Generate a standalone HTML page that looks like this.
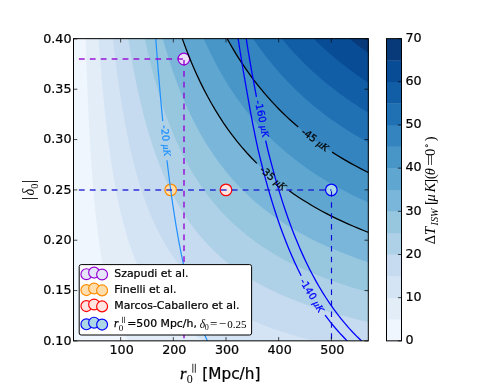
<!DOCTYPE html>
<html><head><meta charset="utf-8"><title>ISW contour plot</title>
<style>html,body{margin:0;padding:0;background:#fff}svg{display:block}text{font-family:"DejaVu Sans","Liberation Sans",sans-serif;fill:#000}.b{stroke:#000;stroke-width:0.22px}.m{font-family:"Liberation Serif","DejaVu Serif",serif;font-style:italic}.mr{font-family:"Liberation Serif","DejaVu Serif",serif}.pp{font-family:"DejaVu Math TeX Gyre","DejaVu Sans",sans-serif}</style>
</head><body>
<svg width="491" height="392" viewBox="0 0 491 392">
<rect width="491" height="392" fill="#fff"/>
<defs><clipPath id="ax"><rect x="73.5" y="38.65" width="294.8" height="302.2"/></clipPath></defs>
<g clip-path="url(#ax)">
<rect x="73.5" y="38.65" width="294.8" height="302.2" fill="#f0f6fd"/>
<polygon points="84.15,-9.8 85.33,33.12 86.67,72.35 88.09,106.11 88.9,122.87 89.72,137.98 90.61,152.84 91.51,166.25 92.47,179.37 93.51,192.11 94.63,204.39 95.74,215.45 96.93,226.1 98.2,236.3 99.54,246.04 100.95,255.3 102.36,263.67 103.92,272.01 105.56,279.9 107.27,287.33 109.05,294.32 110.99,301.16 112.99,307.55 115.07,313.54 117.3,319.32 119.61,324.71 122.06,329.9 124.67,334.85 127.42,339.57 130.24,343.95 133.22,348.11 136.41,352.14 139.76,355.95 143.33,359.61 147.04,363.05 150.91,366.28 155.07,369.41 159.39,372.34 163.92,375.12 168.75,377.79 173.81,380.31 179.16,382.71 184.81,385 190.69,387.14 196.93,389.2 203.47,391.14 210.39,393 217.68,394.76 225.33,396.43 233.36,398 241.84,399.51 250.76,400.93 260.2,402.29 270.09,403.58 280.5,404.8 291.5,405.97 303.1,407.07 315.3,408.12 328.08,409.11 341.61,410.06 355.82,410.96 370.83,411.81 370.83,-61.77 84.15,-61.77" fill="#e2edf8"/>
<polygon points="95.74,-10.67 97.6,21.7 98.64,37.76 99.68,52.56 100.8,67.18 101.91,80.66 103.1,93.93 104.29,106.19 105.56,118.22 106.9,129.98 108.31,141.42 109.8,152.51 111.28,162.73 112.84,172.64 114.48,182.21 116.19,191.44 117.97,200.32 119.76,208.52 121.69,216.72 123.7,224.57 125.78,232.08 127.94,239.26 130.17,246.11 132.55,252.85 135,259.26 137.53,265.35 140.13,271.14 142.88,276.79 145.78,282.28 148.75,287.47 151.88,292.51 155.07,297.26 158.49,301.95 161.99,306.37 165.63,310.62 169.42,314.7 173.36,318.62 177.45,322.37 181.76,326.02 186.23,329.5 190.91,332.87 195.74,336.08 200.8,339.18 206,342.12 211.43,344.95 217.15,347.71 223.1,350.35 229.27,352.87 235.74,355.31 242.43,357.64 249.42,359.89 256.63,362.03 264.14,364.08 272.02,366.07 280.2,367.97 288.75,369.81 297.67,371.57 306.89,373.25 316.48,374.87 326.52,376.43 336.93,377.92 347.79,379.36 359.09,380.74 370.83,382.06 370.83,-61.77 95.74,-61.77" fill="#d4e4f4"/>
<polygon points="108.09,-11.27 110.46,15.03 111.73,27.68 113.07,40.2 114.41,51.9 115.82,63.46 117.3,74.83 118.79,85.45 120.35,95.89 121.99,106.11 123.62,115.66 125.33,125 127.12,134.12 128.98,143 130.91,151.63 132.84,159.7 134.93,167.83 137.01,175.42 139.16,182.78 141.39,189.9 143.7,196.79 146.08,203.44 148.53,209.87 151.13,216.23 153.74,222.19 156.49,228.08 159.31,233.74 162.29,239.31 165.33,244.65 168.46,249.76 171.73,254.77 175.07,259.55 178.57,264.23 182.14,268.7 185.85,273.05 189.65,277.2 193.66,281.31 197.75,285.23 201.99,289.02 206.37,292.7 210.91,296.25 215.59,299.68 220.43,302.99 225.48,306.23 230.69,309.35 236.04,312.35 241.62,315.27 247.34,318.08 253.29,320.8 259.38,323.41 265.78,325.97 272.32,328.42 279.09,330.8 286.15,333.11 293.36,335.32 300.87,337.47 308.6,339.54 316.63,341.56 324.96,343.51 333.51,345.38 342.36,347.2 351.58,348.96 361.02,350.66 370.83,352.3 370.83,-61.77 108.09,-61.77" fill="#c6dbef"/>
<polygon points="121.32,-11.18 124.14,10.9 125.63,21.57 127.12,31.64 128.68,41.64 130.24,51.09 131.88,60.46 133.59,69.7 135.37,78.81 137.16,87.4 139.01,95.86 140.87,103.86 142.81,111.72 144.81,119.43 146.9,126.99 149.05,134.38 151.28,141.59 153.51,148.4 155.82,155.06 158.2,161.55 160.65,167.87 163.18,174.02 165.78,180.01 168.46,185.82 171.21,191.47 174.03,196.94 176.93,202.25 179.98,207.52 183.03,212.5 186.23,217.44 189.5,222.2 192.84,226.81 196.26,231.26 199.83,235.64 203.47,239.87 207.27,244.03 211.13,248.04 215.15,251.97 219.24,255.74 223.47,259.44 227.86,263.06 232.32,266.53 236.93,269.92 241.62,273.17 246.52,276.39 251.5,279.48 256.63,282.48 261.91,285.41 267.34,288.24 272.99,291.03 278.72,293.7 284.66,296.33 290.76,298.86 297.08,301.35 303.55,303.75 310.17,306.07 317.01,308.34 324.07,310.55 331.35,312.71 338.79,314.78 346.45,316.81 354.33,318.77 362.43,320.68 370.83,322.55 370.83,-61.77 121.32,-61.77" fill="#afd1e7"/>
<polygon points="135.45,-11.42 138.57,6.95 141.84,24.41 143.55,32.89 145.26,40.97 147.04,49 148.9,56.96 150.76,64.54 152.69,72.05 154.7,79.46 156.71,86.53 158.79,93.5 160.87,100.14 163.03,106.7 165.26,113.16 167.56,119.51 169.87,125.56 172.25,131.51 174.7,137.35 177.23,143.08 179.76,148.54 182.43,154.05 185.11,159.29 187.94,164.56 190.76,169.58 193.66,174.48 196.63,179.27 199.68,183.94 202.81,188.5 206,192.95 209.27,197.28 212.62,201.51 216.11,205.71 219.61,209.7 223.25,213.68 226.97,217.53 230.76,221.28 234.7,224.99 238.72,228.58 242.81,232.07 247.04,235.51 251.36,238.85 255.74,242.08 260.28,245.26 264.89,248.33 269.65,251.36 274.48,254.29 279.46,257.16 284.59,259.97 289.79,262.7 295.15,265.36 300.65,267.97 306.3,270.52 312.1,273.02 317.97,275.42 323.99,277.77 330.24,280.09 336.56,282.33 343.1,284.53 349.79,286.68 356.63,288.76 363.62,290.8 370.83,292.79 370.83,-61.77 135.45,-61.77" fill="#97c6df"/>
<polygon points="150.69,-11.22 154.03,4.13 157.45,18.55 161.1,32.69 164.89,46.21 168.83,59.12 170.84,65.3 172.92,71.44 175.07,77.54 177.23,83.39 179.46,89.18 181.69,94.74 184,100.25 186.37,105.7 188.75,110.93 191.21,116.1 193.74,121.21 196.26,126.1 198.87,130.94 201.54,135.71 204.29,140.4 207.04,144.91 209.87,149.35 212.77,153.71 215.74,158.01 218.79,162.23 221.91,166.37 225.04,170.35 228.31,174.34 231.58,178.16 234.92,181.92 238.34,185.6 241.84,189.2 245.41,192.73 249.05,196.19 252.84,199.64 256.63,202.94 260.57,206.24 264.51,209.4 268.6,212.54 272.77,215.61 277.01,218.6 281.32,221.52 285.78,224.42 290.31,227.24 294.92,229.99 299.61,232.67 304.44,235.32 309.35,237.91 314.4,240.46 319.53,242.94 324.74,245.35 330.09,247.73 335.52,250.04 341.09,252.32 346.82,254.57 352.62,256.75 358.57,258.89 364.66,261 370.83,263.04 370.83,-61.77 150.69,-61.77" fill="#7ab6d9"/>
<polygon points="167.04,-11.28 170.46,1.28 174.03,13.47 177.75,25.29 181.62,36.73 185.63,47.77 189.72,58.23 193.96,68.33 198.42,78.22 203.03,87.72 207.79,96.85 212.77,105.74 217.9,114.25 220.57,118.46 223.25,122.52 226,126.54 228.75,130.42 231.58,134.26 234.48,138.07 237.38,141.74 240.35,145.37 243.4,148.96 246.45,152.43 249.65,155.93 252.84,159.32 256.11,162.65 259.46,165.94 262.88,169.19 266.3,172.32 269.79,175.4 273.36,178.44 277.01,181.44 280.72,184.38 284.51,187.28 288.38,190.13 292.32,192.93 296.26,195.64 300.35,198.34 304.44,200.95 312.92,206.08 321.69,211.01 330.83,215.8 340.28,220.4 350.09,224.85 360.28,229.14 370.83,233.29 370.83,-61.77 167.04,-61.77" fill="#5fa6d1"/>
<polygon points="184.74,-11.21 188.23,-0.78 191.8,9.24 195.52,19.06 199.31,28.47 203.25,37.68 207.27,46.5 211.43,55.11 215.74,63.49 220.2,71.65 224.74,79.45 229.5,87.14 234.33,94.49 239.31,101.62 244.52,108.63 249.87,115.4 255.37,121.95 261.02,128.28 266.89,134.46 272.92,140.43 279.16,146.24 285.56,151.84 292.17,157.3 299.01,162.6 306.08,167.74 313.29,172.68 320.8,177.52 328.53,182.21 336.48,186.74 344.66,191.12 353.14,195.4 361.84,199.52 370.83,203.53 370.83,-61.77 184.74,-61.77" fill="#4896c8"/>
<polygon points="203.85,-11.3 207.27,-2.88 210.76,5.28 214.33,13.2 218.05,21.04 221.84,28.63 225.7,35.98 229.65,43.1 233.73,50.12 237.9,56.9 242.21,63.58 246.6,70.03 251.13,76.37 255.74,82.48 260.5,88.48 265.41,94.36 270.39,100.02 275.52,105.56 280.8,110.98 286.22,116.27 291.73,121.36 297.45,126.4 303.25,131.24 309.27,136.02 315.44,140.67 321.76,145.19 328.23,149.59 334.85,153.86 341.69,158.06 348.68,162.13 355.89,166.12 363.25,169.99 370.83,173.78 370.83,-61.77 203.85,-61.77" fill="#3484bf"/>
<polygon points="224.59,-11.4 227.86,-4.7 231.13,1.71 234.55,8.14 237.97,14.3 241.47,20.33 245.04,26.24 248.68,32.03 252.47,37.8 256.26,43.33 260.2,48.84 264.22,54.22 268.31,59.48 272.47,64.61 276.71,69.61 281.02,74.49 285.48,79.34 290.02,84.05 294.63,88.65 299.38,93.2 304.22,97.63 309.12,101.94 314.18,106.2 319.31,110.34 324.59,114.43 329.94,118.4 335.44,122.31 341.02,126.11 346.74,129.85 352.62,133.53 358.57,137.11 364.66,140.62 370.83,144.02 370.83,-61.77 224.59,-61.77" fill="#2070b4"/>
<polygon points="247.27,-11.36 250.24,-6.28 253.21,-1.37 256.26,3.51 259.31,8.22 262.51,13 265.7,17.62 268.98,22.19 272.25,26.61 275.59,30.99 279.01,35.31 282.51,39.59 286.08,43.81 289.64,47.89 293.29,51.91 297.01,55.89 300.8,59.81 304.66,63.68 308.53,67.41 312.54,71.17 316.56,74.8 320.72,78.44 324.89,81.96 329.12,85.43 333.44,88.84 337.82,92.19 342.28,95.49 346.82,98.74 351.5,101.98 356.19,105.11 361.02,108.23 365.85,111.26 370.83,114.27 370.83,-61.77 247.27,-61.77" fill="#125ea6"/>
<polygon points="272.02,-11.43 277.08,-4.27 282.28,2.75 287.64,9.61 293.14,16.31 298.79,22.86 304.51,29.16 310.39,35.31 316.48,41.38 322.66,47.23 329.05,52.98 335.59,58.58 342.28,64.03 349.12,69.32 356.19,74.52 363.4,79.57 370.83,84.51 370.83,-61.77 272.02,-61.77" fill="#084c95"/>
<polygon points="299.31,-11.4 303.25,-6.68 307.19,-2.13 311.28,2.44 315.37,6.86 319.61,11.28 323.85,15.55 328.16,19.75 332.62,23.95 337.08,28.01 341.69,32.06 346.3,35.97 351.06,39.87 355.89,43.7 360.8,47.46 365.78,51.15 370.83,54.76 370.83,-61.77 299.31,-61.77" fill="#083979"/>
<circle cx="183.86" cy="59.03" r="5.8" fill="#ebe0f8" stroke="#9400d3" stroke-width="1.25"/>
<circle cx="170.69" cy="189.9" r="5.8" fill="#ffdead" stroke="#ff8c00" stroke-width="1.25"/>
<circle cx="225.99" cy="189.9" r="5.8" fill="#ffe4e1" stroke="#ff0000" stroke-width="1.25"/>
<circle cx="331.33" cy="189.9" r="5.8" fill="#add8e6" stroke="#0000ff" stroke-width="1.25"/>
<polyline points="146.99,-108.38 149.08,-95.86 151.32,-83.19 153.56,-71.23 155.95,-59.19 158.34,-47.82 160.88,-36.42 163.41,-25.66 165.95,-15.49 168.64,-5.31 171.33,4.31 174.17,13.91 177.15,23.45 180.14,32.46 183.27,41.39 186.41,49.82 189.7,58.17 193.13,66.41 196.57,74.19 200.15,81.87 203.73,89.11 207.47,96.26 211.35,103.27 215.38,110.15 219.41,116.65 223.59,123.03 227.92,129.27 232.4,135.36 237.03,141.31 241.81,147.11 246.74,152.75 251.82,158.24 256.89,163.43" fill="none" stroke="#000" stroke-width="1.25" />
<polyline points="289,190.58 293.33,193.64 297.81,196.67 302.44,199.69 307.07,202.58 311.85,205.45 316.63,208.21 321.55,210.94 326.63,213.64 331.86,216.32 337.08,218.88 342.46,221.42 347.84,223.86 353.36,226.26 359.04,228.64 364.86,230.98 370.83,233.29" fill="none" stroke="#000" stroke-width="1.25" />
<polyline points="199.66,-22.23 204.34,-10.06 209.14,1.54 211.65,7.29 214.16,12.84 216.67,18.19 219.3,23.59 221.92,28.8 224.67,34.04 227.41,39.1 230.15,43.98 233,48.89 235.97,53.81 238.94,58.55 241.91,63.13 244.99,67.71 248.08,72.13 251.27,76.56 254.47,80.83 257.78,85.09 261.09,89.21 264.52,93.31 268.06,97.41 271.6,101.35 275.14,105.16 278.79,108.95 282.56,112.73 286.33,116.37 290.21,119.98 294.21,123.58 298.21,127.04" fill="none" stroke="#000" stroke-width="1.25" />
<polyline points="332.12,152.13 336.69,155.01 341.37,157.87 346.05,160.63 350.85,163.36 355.76,166.05 360.67,168.66 370.83,173.78" fill="none" stroke="#000" stroke-width="1.25" />
<polyline points="146.99,-111.34 148.72,-76.45 150.5,-43.62 152.33,-12.77 154.25,16.87 156.26,45.23 158.32,71.67 160.51,97.35 162.75,121.17" fill="none" stroke="#1e90ff" stroke-width="1.2" />
<polyline points="166.95,160.27 169.19,178.53 171.47,195.56 173.85,211.75 176.31,227.09 178.87,241.6 181.57,255.5 184.35,268.54 187.23,280.77 190.24,292.37 193.4,303.34 195.04,308.64 196.68,313.67 198.37,318.58 200.11,323.36 201.89,328.02 203.67,332.43 205.55,336.83 207.42,340.99 209.38,345.13 211.35,349.04 213.36,352.82 215.46,356.56" fill="none" stroke="#1e90ff" stroke-width="1.2" />
<polyline points="226.89,-45.66 230.08,-19.43 233.46,6.34 236.84,30.18 240.42,53.5 243.9,74.49 250.34,111.09 252.22,121.09 254.1,130.69 256.08,140.34 258.07,149.57 260.39,159.22 262.71,168.44 265.13,177.61 267.54,186.36 270.05,195.05 272.57,203.35 275.17,211.57 277.88,219.68 280.59,227.42 283.29,234.79 286.09,242.06 288.99,249.23 291.99,256.27 294.98,262.96 298.07,269.53 301.17,275.78" fill="none" stroke="#0000ff" stroke-width="1.3" />
<polyline points="325.13,315.13 330.25,321.85 335.47,328.21 340.88,334.32 346.48,340.2 352.28,345.82 358.27,351.19 364.46,356.32 370.83,361.2" fill="none" stroke="#0000ff" stroke-width="1.3" />
<polyline points="226.34,-117.54 229.63,-86.56 233.11,-56.25 236.68,-27.51 240.35,-0.3 244.12,25.44 247.99,49.77 249.92,61.21 251.95,72.74 256.44,96.88" fill="none" stroke="#0000ff" stroke-width="1.3" />
<polyline points="265.66,140.71 267.73,149.5 270.05,158.69 272.57,168.2 275.17,177.63 277.69,186.3 280.3,194.89 283,203.4 285.71,211.5 288.41,219.24 291.21,226.89 294.11,234.42 297.01,241.6 300.01,248.67 303.1,255.62 306.19,262.23 309.38,268.71 312.66,275.07 315.95,281.11 319.33,287.01 322.71,292.63 326.29,298.27 329.86,303.63 333.54,308.84 337.3,313.93 341.17,318.86 345.13,323.66 349.19,328.32 353.25,332.72 357.5,337.09 361.85,341.32 366.29,345.4 370.83,349.34" fill="none" stroke="#0000ff" stroke-width="1.3" />
<path d="M67.98 59 H184" stroke="#9400d3" stroke-opacity="0.68" stroke-width="2" stroke-dasharray="5.8 5.12" fill="none"/>
<path d="M184 59 V342" stroke="#9400d3" stroke-opacity="0.68" stroke-width="2" stroke-dasharray="5.8 5.1" stroke-dashoffset="-1.0" fill="none"/>
<path d="M67.98 190 H331.5" stroke="#1e1ed4" stroke-opacity="0.68" stroke-width="2" stroke-dasharray="5.8 5.12" fill="none"/>
<path d="M331.5 190 V342" stroke="#0808d8" stroke-width="1.15" stroke-dasharray="5.5 5.42" stroke-dashoffset="-1.3" fill="none"/>
</g>
<text transform="translate(273.04 178.17) rotate(40.19)" text-anchor="middle" y="3.4" font-size="10.0" style="fill:#000" stroke="#000" stroke-width="0.25">-35 <tspan class="m">μK</tspan></text>
<text transform="translate(314.76 140.17) rotate(36.45)" text-anchor="middle" y="2.8" font-size="10.0" style="fill:#000" stroke="#000" stroke-width="0.25">-45 <tspan class="m">μK</tspan></text>
<text transform="translate(164.76 140.72) rotate(83.88)" text-anchor="middle" y="2.2" font-size="10.0" style="fill:#1e90ff" stroke="#1e90ff" stroke-width="0.25">-20 <tspan class="m">μK</tspan></text>
<text transform="translate(312.06 295.48) rotate(58.79)" text-anchor="middle" y="3.4" font-size="10.0" style="fill:#0000ff" stroke="#0000ff" stroke-width="0.25">-140 <tspan class="m">μK</tspan></text>
<text transform="translate(260.86 118.91) rotate(78.15)" text-anchor="middle" y="2.2" font-size="10.0" style="fill:#0000ff" stroke="#0000ff" stroke-width="0.25">-160 <tspan class="m">μK</tspan></text>
<rect x="73.5" y="38.65" width="294.8" height="302.2" fill="none" stroke="#000" stroke-width="1"/>
<path d="M120.65 340.85 v-3.8 M120.65 38.65 v3.8 M173.32 340.85 v-3.8 M173.32 38.65 v3.8 M225.99 340.85 v-3.8 M225.99 38.65 v3.8 M278.66 340.85 v-3.8 M278.66 38.65 v3.8 M331.33 340.85 v-3.8 M331.33 38.65 v3.8 M73.5 340.9 h3.8 M368.3 340.9 h-3.8 M73.5 290.57 h3.8 M368.3 290.57 h-3.8 M73.5 240.23 h3.8 M368.3 240.23 h-3.8 M73.5 189.9 h3.8 M368.3 189.9 h-3.8 M73.5 139.57 h3.8 M368.3 139.57 h-3.8 M73.5 89.23 h3.8 M368.3 89.23 h-3.8 M73.5 38.9 h3.8 M368.3 38.9 h-3.8" stroke="#000" stroke-width="0.7" fill="none"/>
<text class="b" x="121.65" y="354.0" font-size="12.7" text-anchor="middle">100</text>
<text class="b" x="174.32" y="354.0" font-size="12.7" text-anchor="middle">200</text>
<text class="b" x="226.99" y="354.0" font-size="12.7" text-anchor="middle">300</text>
<text class="b" x="279.66" y="354.0" font-size="12.7" text-anchor="middle">400</text>
<text class="b" x="332.33" y="354.0" font-size="12.7" text-anchor="middle">500</text>
<text class="b" x="71.5" y="344.8" font-size="12.7" text-anchor="end">0.10</text>
<text class="b" x="71.5" y="294.47" font-size="12.7" text-anchor="end">0.15</text>
<text class="b" x="71.5" y="244.13" font-size="12.7" text-anchor="end">0.20</text>
<text class="b" x="71.5" y="193.8" font-size="12.7" text-anchor="end">0.25</text>
<text class="b" x="71.5" y="143.47" font-size="12.7" text-anchor="end">0.30</text>
<text class="b" x="71.5" y="93.13" font-size="12.7" text-anchor="end">0.35</text>
<text class="b" x="71.5" y="42.8" font-size="12.7" text-anchor="end">0.40</text>
<rect x="79.2" y="264.6" width="172.4" height="70.4" rx="2" ry="2" fill="#fff" stroke="#000" stroke-width="1"/>
<circle cx="86.4" cy="274.2" r="5.45" fill="#e6e6fa" stroke="#9400d3" stroke-width="1.15"/>
<circle cx="94.1" cy="272.6" r="5.45" fill="#e6e6fa" stroke="#9400d3" stroke-width="1.15"/>
<circle cx="102.1" cy="274.5" r="5.45" fill="#e6e6fa" stroke="#9400d3" stroke-width="1.15"/>
<text class="b" x="114.3" y="276.9" font-size="10.9">Szapudi et al.</text>
<circle cx="86.4" cy="290.1" r="5.45" fill="#ffdead" stroke="#ff8c00" stroke-width="1.15"/>
<circle cx="94.1" cy="288.5" r="5.45" fill="#ffdead" stroke="#ff8c00" stroke-width="1.15"/>
<circle cx="102.1" cy="290.4" r="5.45" fill="#ffdead" stroke="#ff8c00" stroke-width="1.15"/>
<text class="b" x="114.3" y="292.8" font-size="10.9">Finelli et al.</text>
<circle cx="86.4" cy="306.1" r="5.45" fill="#ffe4e1" stroke="#ff0000" stroke-width="1.15"/>
<circle cx="94.1" cy="304.5" r="5.45" fill="#ffe4e1" stroke="#ff0000" stroke-width="1.15"/>
<circle cx="102.1" cy="306.4" r="5.45" fill="#ffe4e1" stroke="#ff0000" stroke-width="1.15"/>
<text class="b" x="114.3" y="308.8" font-size="10.9">Marcos-Caballero et al.</text>
<circle cx="86.4" cy="324.3" r="5.45" fill="#add8e6" stroke="#0000ff" stroke-width="1.15"/>
<circle cx="94.1" cy="322.7" r="5.45" fill="#add8e6" stroke="#0000ff" stroke-width="1.15"/>
<circle cx="102.1" cy="324.6" r="5.45" fill="#add8e6" stroke="#0000ff" stroke-width="1.15"/>
<text font-size="10.9"><tspan class="m" font-size="11.5" x="114.1" y="327.1" stroke="#000" stroke-width="0.25">r</tspan><tspan class="mr" font-size="9" x="118.7" y="330.8">0</tspan><tspan class="b" x="127.2" y="327.2">=500 Mpc/h, </tspan><tspan class="m" font-size="11.5" x="199.8" y="327.7">δ</tspan><tspan class="mr" font-size="8" x="204.8" y="330.1">0</tspan><tspan class="mr" font-size="13" x="210.0" y="328.1">=</tspan><tspan class="mr" font-size="13" x="218.8" y="328.1">−</tspan><tspan class="mr" font-size="11" x="227.2" y="327.7">0.25</tspan></text>
<text transform="translate(121.47 322) scale(1.39 1)" class="pp" font-size="7.4">∥</text>
<rect x="386.5" y="319.26" width="15.0" height="21.89" fill="#f0f6fd"/>
<rect x="386.5" y="297.68" width="15.0" height="21.89" fill="#e2edf8"/>
<rect x="386.5" y="276.09" width="15.0" height="21.89" fill="#d4e4f4"/>
<rect x="386.5" y="254.51" width="15.0" height="21.89" fill="#c6dbef"/>
<rect x="386.5" y="232.92" width="15.0" height="21.89" fill="#afd1e7"/>
<rect x="386.5" y="211.34" width="15.0" height="21.89" fill="#97c6df"/>
<rect x="386.5" y="189.75" width="15.0" height="21.89" fill="#7ab6d9"/>
<rect x="386.5" y="168.16" width="15.0" height="21.89" fill="#5fa6d1"/>
<rect x="386.5" y="146.58" width="15.0" height="21.89" fill="#4896c8"/>
<rect x="386.5" y="124.99" width="15.0" height="21.89" fill="#3484bf"/>
<rect x="386.5" y="103.41" width="15.0" height="21.89" fill="#2070b4"/>
<rect x="386.5" y="81.82" width="15.0" height="21.89" fill="#125ea6"/>
<rect x="386.5" y="60.24" width="15.0" height="21.89" fill="#084c95"/>
<rect x="386.5" y="38.65" width="15.0" height="21.89" fill="#083979"/>
<rect x="386.5" y="38.65" width="15.0" height="302.2" fill="none" stroke="#000" stroke-width="1"/>
<text class="b" x="405.5" y="343.7" font-size="12.7">0</text>
<text class="b" x="405.5" y="300.64" font-size="12.7">10</text>
<text class="b" x="405.5" y="257.58" font-size="12.7">20</text>
<text class="b" x="405.5" y="214.52" font-size="12.7">30</text>
<text class="b" x="405.5" y="171.46" font-size="12.7">40</text>
<text class="b" x="405.5" y="128.4" font-size="12.7">50</text>
<text class="b" x="405.5" y="85.34" font-size="12.7">60</text>
<text class="b" x="405.5" y="42.28" font-size="12.7">70</text>
<path d="M401.5 340.85 h-3.6 M401.5 297.68 h-3.6 M401.5 254.51 h-3.6 M401.5 211.34 h-3.6 M401.5 168.16 h-3.6 M401.5 124.99 h-3.6 M401.5 81.82 h-3.6 M401.5 38.65 h-3.6" stroke="#000" stroke-width="0.7" fill="none"/>
<text transform="translate(434.9 244.5) rotate(-90)"><tspan x="0.3" y="0" class="mr" font-size="14.6">Δ</tspan><tspan x="9.6" y="0" class="m" font-size="14.6">T</tspan><tspan x="19.0" y="3.2" class="m" font-size="10.2">ISW</tspan><tspan x="39.6" y="0" class="mr" font-size="14.6">[</tspan><tspan x="42.9" y="0" class="m" font-size="14.6">μ</tspan><tspan x="52.0" y="0" class="m" font-size="14.6">K</tspan><tspan x="60.8" y="0" class="mr" font-size="14.6">]</tspan><tspan x="65.3" y="0" class="mr" font-size="14.6">(</tspan><tspan x="69.2" y="0" class="m" font-size="14.6">θ</tspan><tspan x="88.4" y="0" class="mr" font-size="14.6">0</tspan><tspan x="96.2" y="-5.2" class="mr" font-size="10.2">∘</tspan><tspan x="103.2" y="0" class="mr" font-size="14.6">)</tspan></text>
<text transform="translate(434.9 165.9) rotate(-90) scale(1.42 1)" class="mr" font-size="14.6">=</text>
<text font-size="15.3"><tspan class="m" font-size="16.6" x="180" y="378.7" stroke="#000" stroke-width="0.3">r</tspan><tspan class="mr" font-size="12" x="186.8" y="383.3">0</tspan><tspan class="b" x="202.3" y="378.6">[Mpc/h]</tspan></text>
<text transform="translate(191.23 371.3) scale(1.2 1)" class="pp" font-size="10.8">∥</text>
<text transform="translate(34.3 190) rotate(-90)" class="mr"><tspan x="-10.25" y="0" font-size="17.4">|</tspan><tspan x="1.2" y="3.7" font-size="10.4">0</tspan><tspan x="6.75" y="0" font-size="17.4">|</tspan></text>
<text transform="translate(34.3 195.5) rotate(-90) scale(0.86 1)" class="m" font-size="16.8">δ</text>
</svg>
</body></html>
